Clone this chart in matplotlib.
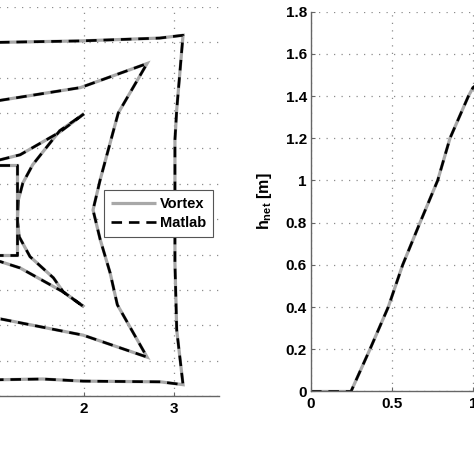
import matplotlib.pyplot as plt
from matplotlib.lines import Line2D
from matplotlib.ticker import FuncFormatter

plt.rcParams['font.family'] = ['Liberation Sans', 'DejaVu Sans']
plt.rcParams['font.weight'] = 'bold'
plt.rcParams['axes.labelweight'] = 'bold'
plt.rcParams['font.size'] = 11
plt.rcParams['mathtext.fontset'] = 'custom'
plt.rcParams['mathtext.rm'] = 'Liberation Sans:bold'
plt.rcParams['mathtext.default'] = 'rm'

# ---- left panel: contour shapes (Vortex and Matlab lie on top of each other)
outer_x = [0.62, 1.07, 1.96, 2.84, 3.10, 3.07, 3.03, 3.01, 3.01, 3.01, 3.01, 3.03,
           3.10, 2.85, 1.99, 1.54, 1.07, 0.62]
outer_y = [4.98, 5.00, 5.02, 5.06, 5.10, 4.65, 4.05, 3.62, 2.96, 2.35, 1.88, 0.93,
           0.16, 0.20, 0.21, 0.24, 0.23, 0.21]

star_x = [0.62, 1.07, 1.96, 2.70, 2.38, 2.18, 2.10, 2.18, 2.29, 2.37, 2.70,
          1.99, 1.07, 0.62]
star_y = [4.07, 4.18, 4.36, 4.70, 4.00, 3.06, 2.63, 2.21, 1.74, 1.29, 0.55,
          0.86, 1.09, 1.19]

inner_x = [0.62, 1.07, 1.29, 1.73, 2.00, 1.73, 1.43, 1.32, 1.27, 1.26, 1.28, 1.40,
           1.66, 1.77, 2.00, 1.77, 1.29, 1.07, 0.62]
inner_y = [3.23, 3.34, 3.41, 3.73, 3.99, 3.75, 3.27, 3.01, 2.77, 2.49, 2.25, 1.97,
           1.67, 1.47, 1.26, 1.47, 1.81, 1.90, 1.99]

rect_x = [0.62, 1.25, 1.25, 0.62]
rect_y = [3.27, 3.27, 1.99, 1.99]

shapes = [(outer_x, outer_y), (star_x, star_y), (inner_x, inner_y), (rect_x, rect_y)]

left_xticks = [0, 1, 2, 3]
left_xlabels = ['', '', '2', '3']   # 0 and 1 fall outside the cropped picture

# ---- right panel: net head
t_vals = [0, 0.247, 0.364, 0.477, 0.566, 0.673, 0.782, 0.858, 0.972, 1.0, 1.05]
h_net = [0, 0, 0.2, 0.4, 0.6, 0.8, 1.0, 1.2, 1.4, 1.44, 1.47]

right_xticks = [0, 0.5, 1, 1.5, 2]
right_xlabels = ['0', '0.5', '1', '', '']
right_yticks = [0, 0.2, 0.4, 0.6, 0.8, 1.0, 1.2, 1.4, 1.6, 1.8]

GRAY = '#a8a8a8'
AX_COL = '#666666'
VORTEX = dict(color=GRAY, lw=2.3, solid_capstyle='butt', solid_joinstyle='miter')
MATLAB = dict(color='black', lw=1.9, dashes=(4, 2.6), dash_capstyle='butt')


def style_axes(ax):
    for s in ('top', 'right'):
        ax.spines[s].set_visible(False)
    for s in ('left', 'bottom'):
        ax.spines[s].set_color(AX_COL)
        ax.spines[s].set_linewidth(1.0)
    ax.tick_params(direction='in', length=3, width=0.8, color=AX_COL,
                   labelsize=11, labelcolor='black')
    ax.tick_params(axis='x', pad=4)
    ax.tick_params(axis='y', pad=3)
    ax.grid(True, color='#8c8c8c', lw=0.9, linestyle=(0, (1, 5)))
    ax.set_axisbelow(True)


fig = plt.figure(figsize=(4.74, 4.74), dpi=100)

ax1 = fig.add_axes([-0.2025, 0.1646, 0.6646, 0.8207])
for sx, sy in shapes:
    ax1.plot(sx, sy, **VORTEX)
    ax1.plot(sx, sy, **MATLAB)
ax1.set_xlim(0, 3.5)
ax1.set_ylim(0, 5.5)
ax1.set_xticks(left_xticks)
ax1.set_xticklabels(left_xlabels)
ax1.set_yticks([i * 0.5 for i in range(12)])
style_axes(ax1)
ax1.tick_params(axis='y', labelleft=False)

ax2 = fig.add_axes([0.6561, 0.1741, 0.6835, 0.8013])
ax2.plot(t_vals, h_net, **VORTEX)
ax2.plot(t_vals, h_net, **MATLAB)
ax2.set_xlim(0, 2)
ax2.set_ylim(0, 1.8)
ax2.set_xticks(right_xticks)
ax2.set_xticklabels(right_xlabels)
ax2.set_yticks(right_yticks)
ax2.yaxis.set_major_formatter(FuncFormatter(lambda v, _: f'{v:g}'))
style_axes(ax2)
ax2.set_ylabel(r'h$_{net}$ [m]', fontsize=11.5, fontweight='bold')
ax2.yaxis.set_label_coords(-0.115, 0.5)

handles = [Line2D([], [], **VORTEX), Line2D([], [], **MATLAB)]
leg = fig.legend(handles, ['Vortex', 'Matlab'], loc='upper left',
                 bbox_to_anchor=(0.2194, 0.599), borderaxespad=0,
                 fancybox=False, framealpha=1, edgecolor='#555555',
                 handlelength=3.1, handletextpad=0.3, labelspacing=0.4,
                 borderpad=0.45, fontsize=10.5)
leg.get_frame().set_linewidth(0.8)

fig.savefig('out.png', dpi=100)
